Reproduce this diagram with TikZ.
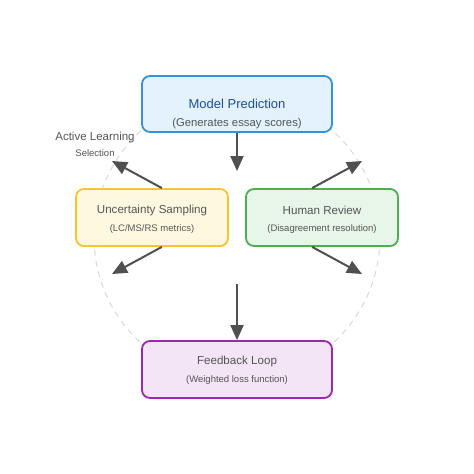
\documentclass[tikz,border=0pt]{standalone}
\usepackage{fontspec}
\setmainfont{Liberation Sans}
\usetikzlibrary{arrows.meta}
\definecolor{txt}{HTML}{555555}
\definecolor{arr}{HTML}{505050}
\definecolor{mpfill}{HTML}{E3F2FD}\definecolor{mpdraw}{HTML}{3394DB}\definecolor{mptext}{HTML}{1F4E9C}
\definecolor{usfill}{HTML}{FFF8E1}\definecolor{usdraw}{HTML}{F7C52B}
\definecolor{hrfill}{HTML}{E8F5E9}\definecolor{hrdraw}{HTML}{4CAF50}
\definecolor{flfill}{HTML}{F3E5F5}\definecolor{fldraw}{HTML}{9C27B0}
\tikzset{
  box/.style={draw, line width=1.8pt, rounded corners=8pt, inner sep=0pt},
  title/.style={font=\fontsize{11.6}{14}\selectfont, text=txt},
  sub/.style={font=\fontsize{9.5}{11}\selectfont, text=txt},
  flow/.style={draw=arr, line width=2pt, -{Triangle[length=15pt,width=13pt]}},
}
\begin{document}
\begin{tikzpicture}[x=1pt,y=-1pt]
\useasboundingbox (0,0) rectangle (474,474);
\fill[white] (0,0) rectangle (474,474);
\draw[gray!30, line width=1pt, dash pattern=on 6pt off 5pt] (237,237) circle (143pt);
\node[box, fill=mpfill, draw=mpdraw, minimum width=190pt, minimum height=56pt] (mp) at (237,104) {};
\node[box, fill=usfill, draw=usdraw, minimum width=152pt, minimum height=57pt] (us) at (152,217.5) {};
\node[box, fill=hrfill, draw=hrdraw, minimum width=152pt, minimum height=57pt] (hr) at (322,217.5) {};
\node[box, fill=flfill, draw=fldraw, minimum width=190pt, minimum height=57pt] (fl) at (237,369.5) {};
\node[font=\fontsize{13}{15}\selectfont, text=mptext] (mpt) at (237,104) {Model Prediction};
\node[sub, font=\fontsize{11.3}{13}\selectfont] (mps) at (237,124) {(Generates essay scores)};
\node[title] (ust) at (152,210) {Uncertainty Sampling};
\node[sub] (uss) at (152,229) {(LC/MS/RS metrics)};
\node[title] (hrt) at (322,210) {Human Review};
\node[sub] (hrs) at (322,229) {(Disagreement resolution)};
\node[title] (flt) at (237,361) {Feedback Loop};
\node[sub] (fls) at (237,380) {(Weighted loss function)};
\node[font=\fontsize{11.5}{13}\selectfont, text=txt] (al) at (95,138) {Active Learning};
\node[font=\fontsize{9.5}{11}\selectfont, text=txt] (als) at (95,153) {Selection};
\coordinate (c1) at (237,171);
\coordinate (c2) at (112,161);
\coordinate (c3) at (112,274);
\coordinate (c4) at (362,161);
\coordinate (c5) at (362,274);
\coordinate (c6) at (237,284);
\draw[flow] (mp.south) -- (c1);
\draw[flow] ([xshift=-67pt]us.north east) -- (c2);
\draw[flow] ([xshift=-67pt]us.south east) -- (c3);
\draw[flow] ([xshift=67pt]hr.north west) -- (c4);
\draw[flow] ([xshift=67pt]hr.south west) -- (c5);
\draw[flow] (c6) -- (fl.north);
\end{tikzpicture}
\end{document}
